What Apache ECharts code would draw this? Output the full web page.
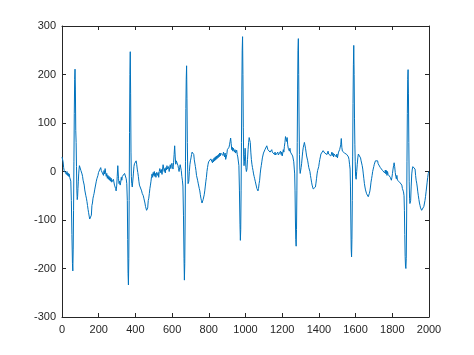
<!DOCTYPE html>
<html>
<head>
<meta charset="utf-8">
<script src="https://cdn.jsdelivr.net/npm/echarts@6/dist/echarts.min.js"></script>
<style>
html,body{margin:0;padding:0;background:#fff;}
#chart{width:474px;height:355px;}
</style>
</head>
<body>
<div id="chart"></div>
<script>
// Tick labels
const xTicks = [0, 200, 400, 600, 800, 1000, 1200, 1400, 1600, 1800, 2000];
const yTicks = [-300, -200, -100, 0, 100, 200, 300];

// Signal samples [sample index, amplitude], grouped by beat
const beat1 = [[0,30],[3,33],[6,20],[9,8],[12,2],[15,6],[18,-2],[21,4],[24,-6],[27,0],[30,-8],[33,-3],[36,-10],[39,-5],[42,-12],[45,-8],[48,-20],[51,-60],[54,-130],[57,-190],[59,-205],[61,-160],[63,-80],[65,20],[67,120],[69,190],[71,211],[73,170],[75,85],[77,60],[79,10],[81,-40],[83,-58],[85,-52],[87,-35],[89,-20],[91,-5],[93,5],[95,12],[97,8],[99,15],[101,12],[103,2],[106,5],[109,-5],[112,-10],[115,-18],[118,-15],[121,-28],[124,-38],[127,-42],[130,-50],[133,-55],[136,-62],[139,-70],[142,-78],[145,-85],[148,-92],[151,-98],[154,-102],[157,-96],[160,-90],[163,-70],[166,-65],[169,-55],[172,-50],[175,-45],[178,-38],[181,-32],[184,-28],[187,-20],[190,-15],[193,-12],[196,-8],[199,-2],[202,-5],[205,3],[208,0],[211,8],[214,2],[217,6],[220,-2],[223,5],[226,-8],[229,2],[232,-5],[235,6],[238,-3],[241,-10],[244,-4],[247,-14],[250,-8],[253,-16],[256,-10],[259,-18],[262,-12],[265,-20],[268,-14],[271,-22],[274,-18],[277,-24],[280,-16],[283,-20],[286,-28],[289,-25],[292,-35],[295,-40],[298,-30],[301,-10],[304,12],[306,8],[308,-15],[311,-25],[314,-20],[317,-28],[320,-22],[323,-12],[326,-18],[329,-10],[332,-14],[335,-6],[338,-10],[341,-4],[344,-8],[347,-2],[350,-15],[353,-25]];
const beat2 = [[356,-60],[358,-140],[360,-210],[362,-234],[364,-180],[366,-60],[368,80],[370,200],[372,247],[374,160],[376,40],[378,-10],[380,-25],[383,-32],[386,-28],[389,-5],[392,10],[395,16],[398,12],[401,20],[404,22],[407,15],[410,5],[413,-2],[416,-10],[419,-20],[422,-28],[425,-24],[428,-32],[431,-28],[434,-40],[437,-45],[440,-42],[443,-50],[446,-55],[449,-52],[452,-65],[455,-72],[458,-70],[461,-80],[464,-84],[467,-75],[470,-60],[473,-55],[476,-45],[479,-35],[482,-28],[485,-20],[488,-10],[491,-5],[494,-12],[497,-2],[500,-8],[503,0],[506,-10],[509,-4],[512,-12],[515,-2],[518,2],[521,-8],[524,-2],[527,-12],[530,0],[533,6],[536,8],[539,-3],[542,4],[545,-6],[548,5],[551,14],[554,10],[557,0],[560,6],[563,-3],[566,8],[569,3],[572,12],[575,5],[578,2],[581,10],[584,0],[587,8],[590,14],[593,6],[596,12],[599,17],[602,10],[605,5],[608,18],[611,35],[614,53],[617,30],[620,15],[623,22],[626,18],[629,25],[632,12],[635,6],[638,0],[641,8],[644,14],[647,10],[650,2],[653,-10],[656,-18],[659,-30]];
const beat3 = [[662,-90],[665,-180],[667,-224],[669,-190],[671,-100],[673,20],[675,130],[677,190],[679,218],[681,150],[683,60],[685,5],[687,-25],[689,-28],[691,-20],[694,0],[697,14],[700,22],[703,28],[706,35],[709,40],[712,42],[715,44],[718,35],[721,24],[724,20],[727,10],[730,2],[733,-8],[736,-12],[739,-18],[742,-24],[745,-28],[748,-35],[751,-40],[754,-48],[757,-55],[760,-60],[763,-65],[766,-62],[769,-58],[772,-55],[775,-48],[778,-40],[781,-30],[784,-20],[787,-12],[790,0],[793,8],[796,15],[799,20],[802,18],[805,24],[808,20],[811,26],[814,22],[817,28],[820,18],[823,25],[826,20],[829,28],[832,22],[835,30],[838,24],[841,32],[844,26],[847,33],[850,28],[853,35],[856,30],[859,38],[862,32],[865,38],[868,40],[871,35],[874,38],[877,33],[880,40],[883,36],[886,30],[889,38],[892,25],[895,22],[898,35],[901,45],[904,48],[907,42],[910,50],[913,55],[916,62],[919,69],[922,58],[925,45],[928,50],[931,42],[934,48],[937,44],[940,40],[943,45],[946,38],[949,42],[952,44],[955,35],[958,30],[961,28],[964,12]];
const beat4 = [[967,-40],[970,-110],[972,-142],[974,-120],[976,-40],[978,60],[980,170],[982,250],[984,278],[986,200],[988,90],[990,30],[992,12],[994,20],[996,35],[998,48],[1000,30],[1002,8],[1005,0],[1008,5],[1011,25],[1014,45],[1017,60],[1020,70],[1023,73],[1026,60],[1029,40],[1032,25],[1035,15],[1038,8],[1041,2],[1044,-5],[1047,-10],[1050,-15],[1053,-20],[1056,-24],[1059,-30],[1062,-35],[1065,-38],[1068,-40],[1071,-35],[1074,-25],[1077,-18],[1080,-5],[1083,5],[1086,12],[1089,20],[1092,28],[1095,32],[1098,38],[1101,42],[1104,40],[1107,46],[1110,50],[1113,48],[1116,53],[1119,50],[1122,45],[1125,48],[1128,42],[1131,46],[1134,40],[1137,44],[1140,38],[1143,45],[1146,40],[1149,36],[1152,42],[1155,38],[1158,35],[1161,40],[1164,34],[1167,38],[1170,32],[1173,36],[1176,40],[1179,34],[1182,38],[1185,30],[1188,36],[1191,42],[1194,35],[1197,40],[1200,32],[1203,38],[1206,45],[1209,40],[1212,52],[1215,60],[1218,72],[1221,75],[1224,62],[1227,70],[1230,55],[1233,48],[1236,52],[1239,42],[1242,48],[1245,40],[1248,44],[1251,38],[1254,40],[1257,32],[1260,30],[1263,20],[1266,5],[1268,-5]];
const beat5 = [[1270,-40],[1272,-100],[1274,-140],[1276,-154],[1278,-120],[1280,-40],[1282,60],[1284,170],[1286,250],[1288,274],[1290,200],[1292,100],[1294,35],[1296,5],[1298,-4],[1300,-6],[1303,8],[1306,17],[1309,30],[1312,42],[1315,50],[1318,55],[1321,60],[1324,58],[1327,48],[1330,40],[1333,32],[1336,30],[1339,22],[1342,15],[1345,8],[1348,5],[1351,0],[1354,-8],[1357,-15],[1360,-22],[1363,-28],[1366,-32],[1369,-36],[1372,-38],[1375,-40],[1378,-38],[1381,-32],[1384,-24],[1387,-15],[1390,-5],[1393,2],[1396,6],[1399,10],[1402,18],[1405,25],[1408,30],[1411,36],[1414,34],[1417,40],[1420,38],[1423,43],[1426,40],[1429,45],[1432,38],[1435,42],[1438,36],[1441,40],[1444,35],[1447,38],[1450,42],[1453,36],[1456,40],[1459,35],[1462,38],[1465,32],[1468,36],[1471,40],[1474,33],[1477,38],[1480,30],[1483,36],[1486,40],[1489,34],[1492,38],[1495,30],[1498,36],[1501,28],[1504,34],[1507,40],[1510,36],[1513,45],[1516,42],[1519,55],[1522,68],[1525,50],[1528,42],[1531,46],[1534,40],[1537,44],[1540,38],[1543,42],[1546,36],[1549,40],[1552,35],[1555,38],[1558,32],[1561,30],[1564,25],[1567,15],[1570,5]];
const beat6 = [[1572,-30],[1574,-100],[1576,-160],[1578,-176],[1580,-140],[1582,-60],[1584,30],[1586,140],[1588,220],[1590,260],[1592,200],[1594,110],[1596,55],[1598,20],[1600,-10],[1603,-16],[1606,0],[1609,15],[1612,28],[1615,36],[1618,38],[1621,40],[1624,32],[1627,28],[1630,22],[1633,25],[1636,12],[1639,5],[1642,-5],[1645,-15],[1648,-25],[1651,-32],[1654,-38],[1657,-42],[1660,-46],[1663,-50],[1666,-48],[1669,-52],[1672,-50],[1675,-45],[1678,-40],[1681,-32],[1684,-22],[1687,-15],[1690,-8],[1693,0],[1696,5],[1699,10],[1702,15],[1705,18],[1708,22],[1711,26],[1714,25],[1717,20],[1720,22],[1723,16],[1726,18],[1729,12],[1732,15],[1735,8],[1738,12],[1741,5],[1744,10],[1747,2],[1750,6],[1753,0],[1756,5],[1759,-3],[1762,3],[1765,-5],[1768,2],[1771,-8],[1774,0],[1777,-6],[1780,-2],[1783,-10],[1786,-4],[1789,-12],[1792,-8],[1795,-18],[1798,-12],[1801,-4],[1804,5],[1807,12],[1810,18],[1813,10],[1816,-2],[1819,-10],[1822,-15],[1825,-8],[1828,-18],[1831,-14],[1834,-20],[1837,-16],[1840,-22],[1843,-18],[1846,-25],[1849,-20],[1852,-28],[1855,-35],[1858,-38],[1861,-42],[1864,-50]];
const beat7 = [[1866,-80],[1868,-130],[1870,-175],[1872,-195],[1874,-200],[1876,-180],[1878,-100],[1880,20],[1882,120],[1884,190],[1886,210],[1888,160],[1890,60],[1892,-20],[1894,-55],[1896,-66],[1898,-70],[1900,-60],[1903,-30],[1906,-5],[1909,5],[1912,10],[1915,14],[1918,10],[1921,12],[1924,5],[1927,-8],[1930,-18],[1933,-24],[1936,-32],[1939,-42],[1942,-50],[1945,-58],[1948,-65],[1951,-70],[1954,-75],[1957,-78],[1960,-80],[1963,-76],[1966,-80],[1969,-78],[1972,-72],[1975,-68],[1978,-60],[1981,-52],[1984,-42],[1987,-32],[1990,-22],[1993,-12],[1996,-4],[1999,0]];

const signal = [].concat(beat1, beat2, beat3, beat4, beat5, beat6, beat7);

const chart = echarts.init(document.getElementById('chart'), null, {renderer: 'canvas'});
const axisColor = '#262626';
const labelStyle = {color: '#262626', fontFamily: 'Liberation Sans, Arial, sans-serif', fontSize: 11, formatter: function (v) { return String(v); }};
const xMin = xTicks[0], xMax = xTicks[xTicks.length - 1];
const yMin = yTicks[0], yMax = yTicks[yTicks.length - 1];
const xStep = xTicks[1] - xTicks[0], yStep = yTicks[1] - yTicks[0];

chart.setOption({
  animation: false,
  backgroundColor: '#ffffff',
  grid: {left: 62, right: 45, top: 26, bottom: 38, containLabel: false},
  xAxis: [
    {type: 'value', min: xMin, max: xMax, interval: xStep, position: 'bottom',
     axisLine: {show: true, onZero: false, lineStyle: {color: axisColor, width: 1}},
     axisTick: {show: true, inside: true, length: 4, lineStyle: {color: axisColor}},
     axisLabel: Object.assign({margin: 7}, labelStyle),
     splitLine: {show: false}},
    {type: 'value', min: xMin, max: xMax, interval: xStep, position: 'top',
     axisLine: {show: true, onZero: false, lineStyle: {color: axisColor, width: 1}},
     axisTick: {show: true, inside: true, length: 4, lineStyle: {color: axisColor}},
     axisLabel: {show: false}, splitLine: {show: false}}
  ],
  yAxis: [
    {type: 'value', min: yMin, max: yMax, interval: yStep, position: 'left',
     axisLine: {show: true, onZero: false, lineStyle: {color: axisColor, width: 1}},
     axisTick: {show: true, inside: true, length: 4, lineStyle: {color: axisColor}},
     axisLabel: Object.assign({margin: 6}, labelStyle),
     splitLine: {show: false}},
    {type: 'value', min: yMin, max: yMax, interval: yStep, position: 'right',
     axisLine: {show: true, onZero: false, lineStyle: {color: axisColor, width: 1}},
     axisTick: {show: true, inside: true, length: 4, lineStyle: {color: axisColor}},
     axisLabel: {show: false}, splitLine: {show: false}}
  ],
  series: [{
    type: 'line',
    data: signal,
    xAxisIndex: 0, yAxisIndex: 0,
    showSymbol: false,
    symbol: 'none',
    lineStyle: {color: '#0072BD', width: 1},
    clip: true
  }]
});
</script>
</body>
</html>
